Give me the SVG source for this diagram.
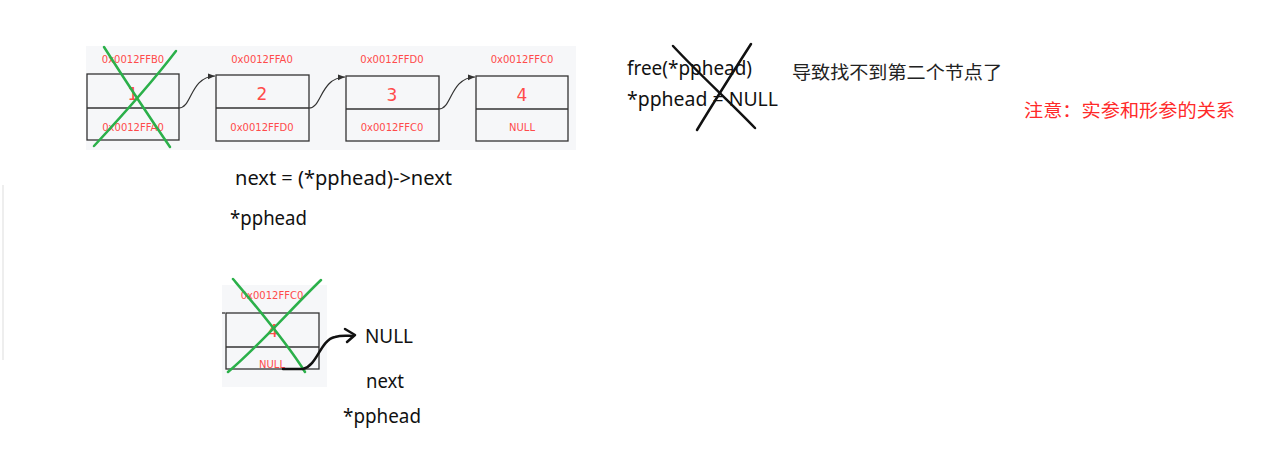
<svg xmlns="http://www.w3.org/2000/svg" width="1261" height="456" viewBox="0 0 1261 456">
<defs>
<style>
.bg{fill:#f6f7f9}
.box{fill:none;stroke:#333;stroke-width:1.3}
.addr{font-family:"DejaVu Sans",sans-serif;font-size:10px;fill:#ff4b4b;text-anchor:middle}
.num{font-family:"DejaVu Sans",sans-serif;font-size:17px;fill:#ff4b4b;text-anchor:middle}
.txt{font-family:"Noto Sans","Noto Sans CJK SC",sans-serif;font-size:19px;fill:#111}
.cn{font-family:"Noto Sans CJK SC",sans-serif;font-size:18px;fill:#222}
.red{font-family:"Noto Sans CJK SC",sans-serif;font-size:18px;fill:#ff2a2a}
.conn{fill:none;stroke:#333;stroke-width:1.2}
.green{fill:none;stroke:#2bb04a;stroke-width:2.5;stroke-linecap:round}
.ink{fill:none;stroke:#111;stroke-width:2.5;stroke-linecap:round;stroke-linejoin:round}
</style>
<marker id="ah" viewBox="0 0 10 10" refX="10" refY="5" markerWidth="6" markerHeight="6" orient="auto">
<path d="M0,1 L10,5 L0,9 z" fill="#333"/>
</marker>
</defs>
<rect width="1261" height="456" fill="#fff"/>
<line x1="3" y1="185" x2="3" y2="360" stroke="#eee" stroke-width="2"/>
<rect class="bg" x="86" y="46" width="490" height="104"/>
<g id="node1">
<text class="addr" x="133" y="63">0x0012FFB0</text>
<rect class="box" x="87" y="74" width="92" height="66"/>
<line class="box" x1="87" y1="108" x2="179" y2="108"/>
<text class="num" x="133" y="100">1</text>
<text class="addr" x="133" y="131">0x0012FFA0</text>
</g>
<g id="node2">
<text class="addr" x="262" y="63">0x0012FFA0</text>
<rect class="box" x="216" y="75" width="93" height="66"/>
<line class="box" x1="216" y1="108" x2="309" y2="108"/>
<text class="num" x="262" y="100">2</text>
<text class="addr" x="262" y="131">0x0012FFD0</text>
</g>
<g id="node3">
<text class="addr" x="392" y="63">0x0012FFD0</text>
<rect class="box" x="346" y="76" width="93" height="65"/>
<line class="box" x1="346" y1="109" x2="439" y2="109"/>
<text class="num" x="392" y="101">3</text>
<text class="addr" x="392" y="131">0x0012FFC0</text>
</g>
<g id="node4">
<text class="addr" x="522" y="63">0x0012FFC0</text>
<rect class="box" x="476" y="76" width="92" height="65"/>
<line class="box" x1="476" y1="109" x2="568" y2="109"/>
<text class="num" x="522" y="101">4</text>
<text class="addr" x="522" y="131">NULL</text>
</g>
<g id="connectors">
<path class="conn" marker-end="url(#ah)" d="M179,108 C192,108 190,77 215,76"/>
<path class="conn" marker-end="url(#ah)" d="M309,108 C322,108 320,78 345,77"/>
<path class="conn" marker-end="url(#ah)" d="M439,109 C452,109 450,78 475,77"/>
</g>
<g id="cross1">
<path class="green" d="M104,47 C125,80 148,115 170,147"/>
<path class="green" d="M176,51 C150,85 120,118 94,146"/>
</g>
<g id="code1">
<text class="txt" x="235" y="185" textLength="217" lengthAdjust="spacingAndGlyphs">next = (*pphead)-&gt;next</text>
<text class="txt" x="230" y="225" textLength="77" lengthAdjust="spacingAndGlyphs">*pphead</text>
</g>
<g id="code2">
<text class="txt" x="627" y="75" textLength="125" lengthAdjust="spacingAndGlyphs">free(*pphead)</text>
<text class="txt" x="627" y="106" textLength="151" lengthAdjust="spacingAndGlyphs">*pphead = NULL</text>
<path class="ink" d="M673,46 C700,75 728,100 755,128"/>
<path class="ink" d="M751,44 C733,72 714,102 697,130"/>
</g>
<text class="cn" x="792" y="79" textLength="210" lengthAdjust="spacingAndGlyphs">导致找不到第二个节点了</text>
<text class="red" x="1024" y="117" textLength="211" lengthAdjust="spacingAndGlyphs">注意：实参和形参的关系</text>
<g id="node4b">
<rect class="bg" x="222" y="285" width="105" height="102"/>
<line x1="222" y1="313" x2="225" y2="313" stroke="#333" stroke-width="1.3"/>
<text class="addr" x="272" y="299">0x0012FFC0</text>
<rect class="box" x="226" y="313" width="93" height="56"/>
<line class="box" x1="226" y1="347" x2="319" y2="347"/>
<text class="num" x="273" y="337">4</text>
<text class="addr" x="272" y="368">NULL</text>
<path class="green" d="M233,279 C255,305 285,340 305,372"/>
<path class="green" d="M321,280 C290,310 260,345 228,372"/>
</g>
<g id="ink-arrow">
<path class="ink" d="M283,369 L303,369 C318,365 320,340 335,337 C342,335 347,336 353,336"/>
<path class="ink" d="M345,329 L355,335 L347,342"/>
</g>
<g id="labels2">
<text class="txt" x="365" y="343" textLength="48" lengthAdjust="spacingAndGlyphs">NULL</text>
<text class="txt" x="366" y="388" textLength="38" lengthAdjust="spacingAndGlyphs">next</text>
<text class="txt" x="343" y="423" textLength="78" lengthAdjust="spacingAndGlyphs">*pphead</text>
</g>
</svg>
